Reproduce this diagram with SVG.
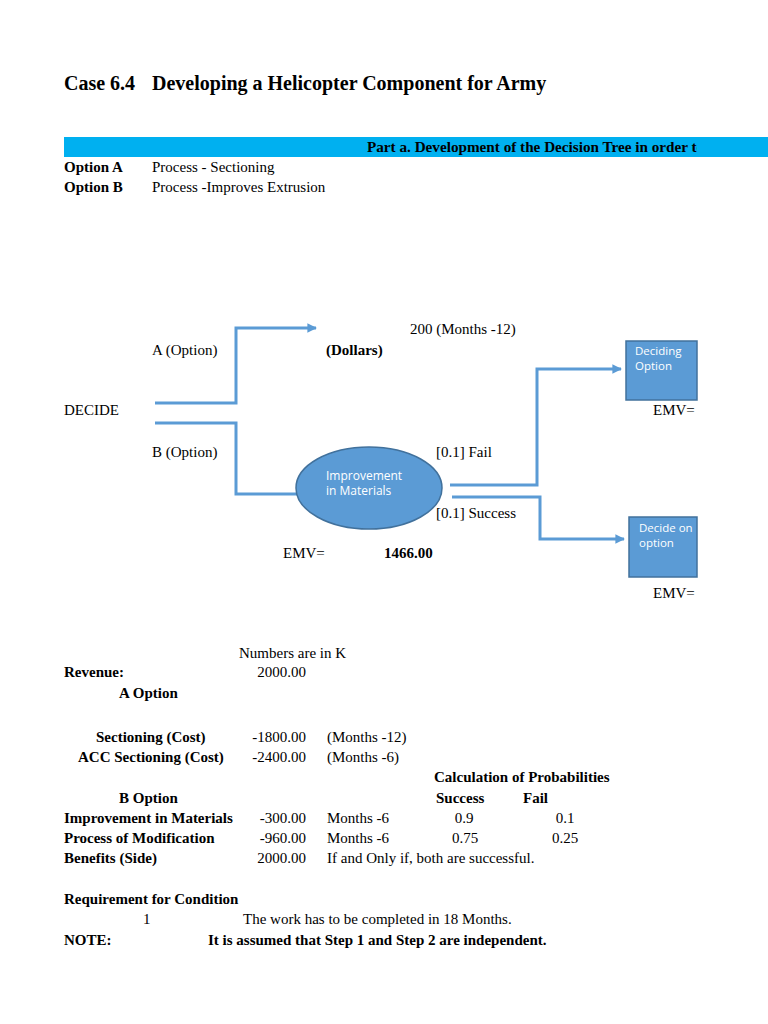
<svg xmlns="http://www.w3.org/2000/svg" width="768" height="1024" viewBox="0 0 768 1024">
<defs>
<style>
.t{font-family:"Liberation Serif","Times New Roman",serif;font-size:15px;fill:#000}
.b{font-weight:bold}
.w{font-family:"Open Sans","Liberation Sans",sans-serif;font-size:12px;fill:#fff}
.s{font-size:11.5px}
.c{fill:none;stroke:#5B9BD5;stroke-width:3}
.n{fill:#5B9BD5;stroke:#41719C;stroke-width:1.5}
</style>
<marker id="ah" viewBox="0 0 10 10" refX="9" refY="5" markerWidth="3.2" markerHeight="3.2" orient="auto" markerUnits="strokeWidth">
<path d="M0,0 L10,5 L0,10 z" fill="#5B9BD5"/>
</marker>
<clipPath id="cl"><rect x="0" y="0" width="697" height="1024"/></clipPath>
</defs>
<rect width="768" height="1024" fill="#fff"/>
<g id="header">
<text class="t b" x="64" y="90" style="font-size:20px">Case 6.4</text>
<text class="t b" x="152" y="90" style="font-size:20px">Developing a Helicopter Component for Army</text>
<rect x="64" y="137" width="704" height="20" fill="#00B0F0"/>
<text class="t b" x="367" y="152" clip-path="url(#cl)" style="font-size:15.2px">Part a. Development of the Decision Tree in order to</text>
<text class="t b" x="64" y="172">Option A</text>
<text class="t" x="152" y="172">Process - Sectioning</text>
<text class="t b" x="64" y="192">Option B</text>
<text class="t" x="152" y="192">Process -Improves Extrusion</text>
</g>
<g id="connectors">
<polyline class="c" points="155,403 236,403 236,328 316,328" marker-end="url(#ah)"/>
<polyline class="c" points="155,423 236,423 236,494 297,494"/>
<polyline class="c" points="450,485 537,485 537,369 621,369" marker-end="url(#ah)"/>
<polyline class="c" points="452,497 540,497 540,539 624,539" marker-end="url(#ah)"/>
</g>
<g id="decide">
<text class="t" x="64" y="415">DECIDE</text>
<text class="t" x="152" y="355">A (Option)</text>
<text class="t" x="152" y="457">B (Option)</text>
<text class="t" x="410" y="334">200 (Months -12)</text>
<text class="t b" x="326" y="355">(Dollars)</text>
</g>
<g id="improvement">
<ellipse class="n" cx="369" cy="488" rx="73" ry="41"/>
<text class="w" x="326" y="480">Improvement</text>
<text class="w" x="326" y="495">in Materials</text>
<text class="t" x="283" y="558">EMV=</text>
<text class="t b" x="384" y="558">1466.00</text>
<text class="t" x="436" y="457">[0.1] Fail</text>
<text class="t" x="436" y="518">[0.1] Success</text>
</g>
<g id="deciding-option">
<rect class="n" x="626" y="341" width="71" height="59"/>
<text class="w s" x="635" y="355">Deciding</text>
<text class="w s" x="635" y="370">Option</text>
<text class="t" x="653" y="415">EMV=</text>
</g>
<g id="decide-on-option">
<rect class="n" x="629" y="517" width="68" height="60"/>
<text class="w s" x="639" y="532" clip-path="url(#cl)">Decide on</text>
<text class="w s" x="639" y="547">option</text>
<text class="t" x="653" y="598">EMV=</text>
</g>
<g id="table">
<text class="t" x="239" y="658">Numbers are in K</text>
<text class="t b" x="64" y="677">Revenue:</text>
<text class="t" x="306" y="677" text-anchor="end">2000.00</text>
<text class="t b" x="119" y="698">A Option</text>
<text class="t b" x="96" y="742">Sectioning (Cost)</text>
<text class="t" x="306" y="742" text-anchor="end">-1800.00</text>
<text class="t" x="327" y="742">(Months -12)</text>
<text class="t b" x="78" y="762">ACC Sectioning (Cost)</text>
<text class="t" x="306" y="762" text-anchor="end">-2400.00</text>
<text class="t" x="327" y="762">(Months -6)</text>
<text class="t b" x="434" y="782">Calculation of Probabilities</text>
<text class="t b" x="119" y="803">B Option</text>
<text class="t b" x="436" y="803">Success</text>
<text class="t b" x="523" y="803">Fail</text>
<text class="t b" x="64" y="823">Improvement in Materials</text>
<text class="t" x="306" y="823" text-anchor="end">-300.00</text>
<text class="t" x="327" y="823">Months -6</text>
<text class="t" x="464" y="823" text-anchor="middle">0.9</text>
<text class="t" x="565" y="823" text-anchor="middle">0.1</text>
<text class="t b" x="64" y="843">Process of Modification</text>
<text class="t" x="306" y="843" text-anchor="end">-960.00</text>
<text class="t" x="327" y="843">Months -6</text>
<text class="t" x="465" y="843" text-anchor="middle">0.75</text>
<text class="t" x="565" y="843" text-anchor="middle">0.25</text>
<text class="t b" x="64" y="863">Benefits (Side)</text>
<text class="t" x="306" y="863" text-anchor="end">2000.00</text>
<text class="t" x="327" y="863">If and Only if, both are successful.</text>
<text class="t b" x="64" y="904">Requirement for Condition</text>
<text class="t" x="143" y="924">1</text>
<text class="t" x="243" y="924">The work has to be completed in 18 Months.</text>
<text class="t b" x="64" y="945">NOTE:</text>
<text class="t b" x="208" y="945">It is assumed that Step 1 and Step 2 are independent.</text>
</g>
</svg>
